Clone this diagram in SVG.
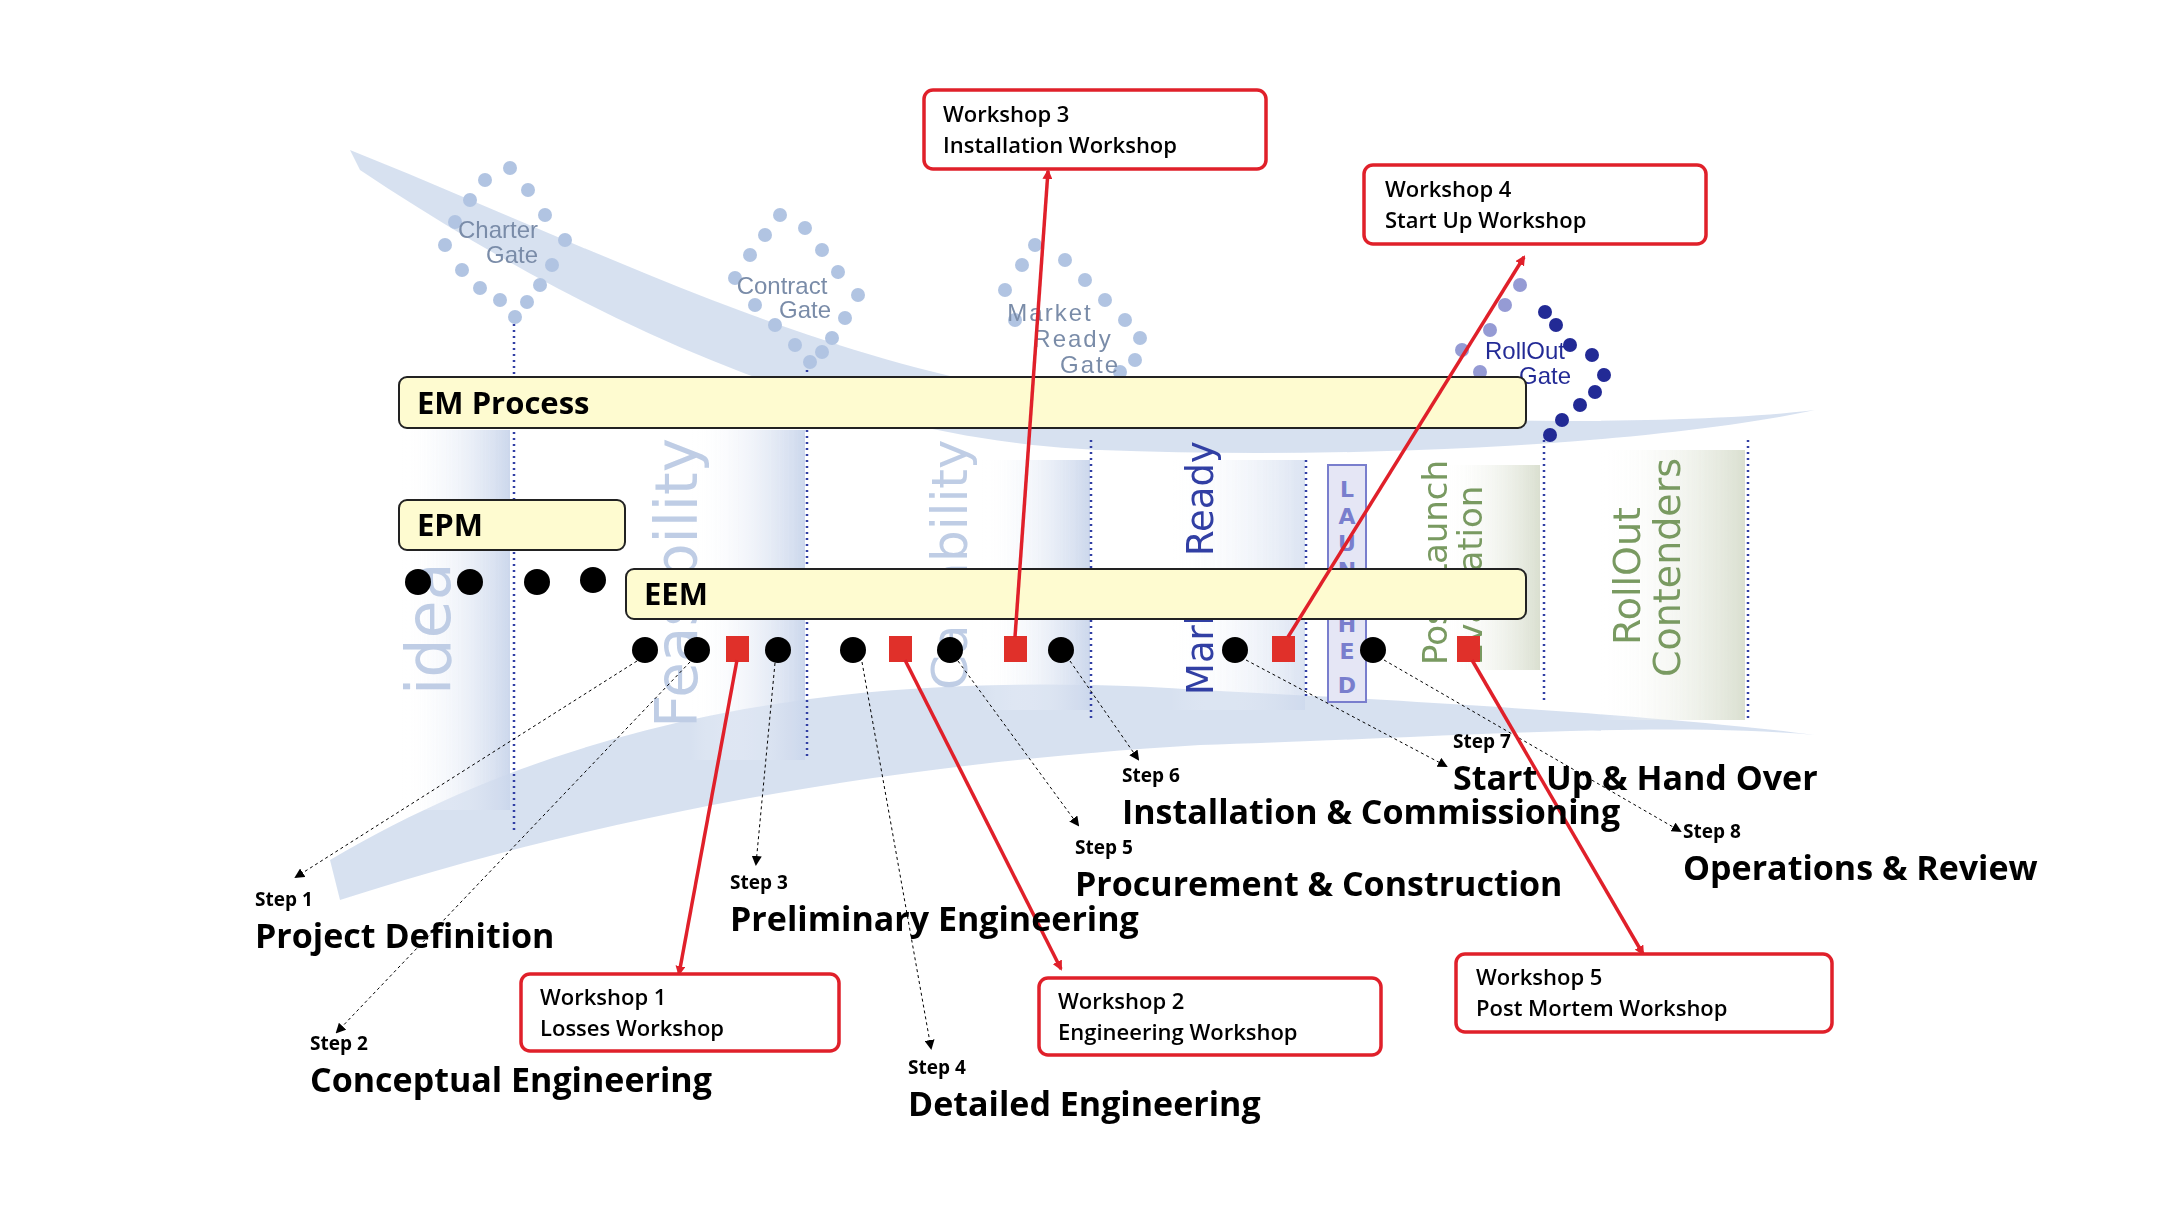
<svg xmlns="http://www.w3.org/2000/svg" width="2160" height="1211" viewBox="0 0 2160 1211">
<style>
.bar{fill:#fefbd0;stroke:#222;stroke-width:2}
.bt{font-family:"Open Sans","Liberation Sans",sans-serif;font-weight:bold;font-size:31px;fill:#000}
.ws{fill:#fff;stroke:#e0202a;stroke-width:3.5}
.wt{font-family:"Open Sans","Liberation Sans",sans-serif;font-weight:600;font-size:22px;fill:#000}
.st{font-family:"Open Sans","Liberation Sans",sans-serif;font-weight:bold;font-size:19px;fill:#000}
.sl{font-family:"Open Sans","Liberation Sans",sans-serif;font-weight:bold;font-size:34px;fill:#000}
.red{stroke:#e0202a;stroke-width:3.5;fill:none;marker-end:url(#ra)}
.dot{stroke:#000;stroke-width:1;stroke-dasharray:3 3;fill:none;marker-end:url(#ba)}
.vl{stroke:#1a2a9a;stroke-width:2.5;stroke-dasharray:2 4}
.bg{font-family:"Verdana","DejaVu Sans",sans-serif}
.gate{font-family:"Liberation Sans",sans-serif;font-size:24px;fill:#6b7f9f;text-anchor:middle}
</style>
<defs>
<marker id="ra" markerWidth="10" markerHeight="10" refX="8" refY="5" orient="auto" markerUnits="userSpaceOnUse"><path d="M0,0 L10,5 L0,10 z" fill="#e0202a"/></marker>
<marker id="ba" markerWidth="10" markerHeight="10" refX="8" refY="5" orient="auto" markerUnits="userSpaceOnUse"><path d="M0,0 L10,5 L0,10 z" fill="#000"/></marker>
<linearGradient id="col" x1="0" x2="1"><stop offset="0" stop-color="#fff" stop-opacity="0"/><stop offset="1" stop-color="#c6d3ea"/></linearGradient>
<linearGradient id="colg" x1="0" x2="1"><stop offset="0" stop-color="#fff" stop-opacity="0"/><stop offset="1" stop-color="#d6dccb"/></linearGradient>
</defs>
<g id="background" opacity="0.9">
<path d="M350,150 C600,250 850,380 1100,400 C1300,420 1650,430 1815,410 C1650,445 1350,460 1100,450 C850,440 600,330 360,170 z" fill="#d3deef"/>
<path d="M330,860 C600,700 900,670 1200,690 C1500,705 1700,720 1815,735 C1650,720 1400,740 1200,745 C950,760 650,800 340,900 z" fill="#d3deef"/>
<rect x="400" y="430" width="110" height="380" fill="url(#col)"/>
<rect x="690" y="430" width="115" height="330" fill="url(#col)"/>
<rect x="980" y="460" width="110" height="250" fill="url(#col)"/>
<rect x="1170" y="460" width="135" height="250" fill="url(#col)" opacity="0.7"/>
<rect x="1440" y="465" width="100" height="205" fill="url(#colg)"/>
<rect x="1600" y="450" width="145" height="270" fill="url(#colg)"/>
<line class="vl" x1="514" y1="312" x2="514" y2="831"/>
<line class="vl" x1="807" y1="370" x2="807" y2="760"/>
<line class="vl" x1="1091" y1="440" x2="1091" y2="720"/>
<line class="vl" x1="1306" y1="460" x2="1306" y2="700"/>
<line class="vl" x1="1544" y1="440" x2="1544" y2="700"/>
<line class="vl" x1="1748" y1="440" x2="1748" y2="720"/>
<g fill="#a9bedf">
<circle cx="485" cy="180" r="7"/><circle cx="470" cy="200" r="7"/><circle cx="455" cy="222" r="7"/><circle cx="445" cy="245" r="7"/><circle cx="462" cy="270" r="7"/><circle cx="480" cy="288" r="7"/><circle cx="500" cy="300" r="7"/><circle cx="515" cy="317" r="7"/><circle cx="510" cy="168" r="7"/><circle cx="528" cy="190" r="7"/><circle cx="545" cy="215" r="7"/><circle cx="565" cy="240" r="7"/><circle cx="552" cy="265" r="7"/><circle cx="540" cy="285" r="7"/><circle cx="527" cy="302" r="7"/>
<circle cx="780" cy="215" r="7"/><circle cx="765" cy="235" r="7"/><circle cx="750" cy="255" r="7"/><circle cx="735" cy="278" r="7"/><circle cx="755" cy="305" r="7"/><circle cx="775" cy="325" r="7"/><circle cx="795" cy="345" r="7"/><circle cx="810" cy="362" r="7"/><circle cx="805" cy="228" r="7"/><circle cx="822" cy="250" r="7"/><circle cx="838" cy="272" r="7"/><circle cx="858" cy="295" r="7"/><circle cx="845" cy="318" r="7"/><circle cx="832" cy="338" r="7"/><circle cx="822" cy="352" r="7"/>
<circle cx="1035" cy="245" r="7"/><circle cx="1022" cy="265" r="7"/><circle cx="1005" cy="290" r="7"/><circle cx="1015" cy="320" r="7"/><circle cx="1065" cy="260" r="7"/><circle cx="1085" cy="280" r="7"/><circle cx="1105" cy="300" r="7"/><circle cx="1125" cy="320" r="7"/><circle cx="1140" cy="338" r="7"/><circle cx="1135" cy="360" r="7"/><circle cx="1120" cy="372" r="7"/>
<circle cx="1520" cy="285" r="7" fill="#8a90d0"/><circle cx="1505" cy="305" r="7" fill="#8a90d0"/><circle cx="1490" cy="330" r="7" fill="#8a90d0"/><circle cx="1462" cy="350" r="7" fill="#8a90d0"/><circle cx="1480" cy="372" r="7" fill="#8a90d0"/>
</g>
<g fill="#0a128a">
<circle cx="1545" cy="312" r="7"/><circle cx="1556" cy="325" r="7"/><circle cx="1570" cy="345" r="7"/><circle cx="1592" cy="355" r="7"/><circle cx="1604" cy="375" r="7"/><circle cx="1595" cy="392" r="7"/><circle cx="1580" cy="405" r="7"/><circle cx="1562" cy="420" r="7"/><circle cx="1550" cy="435" r="7"/>
</g>
<text class="gate" x="498" y="238">Charter</text><text class="gate" x="512" y="263">Gate</text>
<text class="gate" x="782" y="294">Contract</text><text class="gate" x="805" y="318">Gate</text>
<text class="gate" x="1050" y="321" letter-spacing="2">Market</text><text class="gate" x="1073" y="347" letter-spacing="2">Ready</text><text class="gate" x="1090" y="373" letter-spacing="2">Gate</text>
<text class="gate" x="1525" y="359" style="fill:#0a128a">RollOut</text><text class="gate" x="1545" y="384" style="fill:#0a128a">Gate</text>
<text class="bg" transform="translate(450,695) rotate(-90)" font-size="62" fill="#b8c8e2">idea</text>
<text class="bg" transform="translate(697,728) rotate(-90)" font-size="58" fill="#b8c8e2">Feasibility</text>
<text class="bg" transform="translate(967,690) rotate(-90)" font-size="50" fill="#b8c8e2">Capability</text>
<text class="bg" transform="translate(1213,695) rotate(-90)" font-size="37" fill="#1a2a9a">Market Ready</text>
<rect x="1328" y="465" width="38" height="237" fill="#e2e4f4" stroke="#6a70c8" stroke-width="2"/>
<g class="bg" font-size="22" fill="#6a70c8" text-anchor="middle" font-weight="bold">
<text x="1347" y="497">L</text><text x="1347" y="524">A</text><text x="1347" y="551">U</text><text x="1347" y="578">N</text><text x="1347" y="605">C</text><text x="1347" y="632">H</text><text x="1347" y="659">E</text><text x="1347" y="693">D</text>
</g>
<text class="bg" transform="translate(1447,665) rotate(-90)" font-size="34" fill="#6a8f50">Post Launch</text>
<text class="bg" transform="translate(1482,665) rotate(-90)" font-size="34" fill="#6a8f50">Evaluation</text>
<text class="bg" transform="translate(1640,645) rotate(-90)" font-size="38" fill="#6a8f50">RollOut</text>
<text class="bg" transform="translate(1680,677) rotate(-90)" font-size="38" fill="#6a8f50">Contenders</text>
</g>
<g id="bars">
<g id="em-process"><rect class="bar" x="399" y="377" width="1127" height="51" rx="8"/><text class="bt" x="417" y="414">EM Process</text></g>
<g id="epm"><rect class="bar" x="399" y="500" width="226" height="50" rx="8"/><text class="bt" x="417" y="536">EPM</text></g>
<g id="eem"><rect class="bar" x="626" y="569" width="900" height="50" rx="8"/><text class="bt" x="644" y="605">EEM</text></g>
</g>
<g id="markers">
<circle cx="418" cy="582" r="13"/><circle cx="470" cy="582" r="13"/><circle cx="537" cy="582" r="13"/><circle cx="593" cy="580" r="13"/>
<circle cx="645" cy="650" r="13"/><circle cx="697" cy="650" r="13"/><circle cx="778" cy="650" r="13"/><circle cx="853" cy="650" r="13"/><circle cx="950" cy="650" r="13"/><circle cx="1061" cy="650" r="13"/><circle cx="1235" cy="650" r="13"/><circle cx="1373" cy="650" r="13"/>
<g fill="#e0302a"><rect x="726" y="636" width="23" height="26"/><rect x="889" y="636" width="23" height="26"/><rect x="1004" y="636" width="23" height="26"/><rect x="1272" y="636" width="23" height="26"/><rect x="1457" y="636" width="23" height="26"/></g>
</g>
<g id="connectors">
<path class="dot" d="M637,661 L296,877"/>
<path class="dot" d="M690,662 L337,1032"/>
<path class="dot" d="M775,663 L756,864"/>
<path class="dot" d="M862,662 L931,1048"/>
<path class="dot" d="M958,661 L1078,825"/>
<path class="dot" d="M1070,661 L1138,759"/>
<path class="dot" d="M1246,660 L1446,766"/>
<path class="dot" d="M1384,660 L1680,831"/>
<path class="red" d="M737,660 L679,974"/>
<path class="red" d="M905,660 L1061,969"/>
<path class="red" d="M1015,637 L1048,171"/>
<path class="red" d="M1288,637 L1524,257"/>
<path class="red" d="M1472,660 L1643,954"/>
</g>
<g id="workshop3"><rect class="ws" x="924" y="90" width="342" height="79" rx="9"/><text class="wt" x="943" y="122">Workshop 3</text><text class="wt" x="943" y="153">Installation Workshop</text></g>
<g id="workshop4"><rect class="ws" x="1364" y="165" width="342" height="79" rx="9"/><text class="wt" x="1385" y="197">Workshop 4</text><text class="wt" x="1385" y="228">Start Up Workshop</text></g>
<g id="workshop1"><rect class="ws" x="521" y="974" width="318" height="77" rx="9"/><text class="wt" x="540" y="1005">Workshop 1</text><text class="wt" x="540" y="1036">Losses Workshop</text></g>
<g id="workshop2"><rect class="ws" x="1039" y="978" width="342" height="77" rx="9"/><text class="wt" x="1058" y="1009">Workshop 2</text><text class="wt" x="1058" y="1040">Engineering Workshop</text></g>
<g id="workshop5"><rect class="ws" x="1456" y="954" width="376" height="78" rx="9"/><text class="wt" x="1476" y="985">Workshop 5</text><text class="wt" x="1476" y="1016">Post Mortem Workshop</text></g>
<g id="steps">
<text class="st" x="255" y="906">Step 1</text><text class="sl" x="255" y="948">Project Definition</text>
<text class="st" x="310" y="1050">Step 2</text><text class="sl" x="310" y="1092">Conceptual Engineering</text>
<text class="st" x="730" y="889">Step 3</text><text class="sl" x="730" y="931">Preliminary Engineering</text>
<text class="st" x="908" y="1074">Step 4</text><text class="sl" x="908" y="1116">Detailed Engineering</text>
<text class="st" x="1075" y="854">Step 5</text><text class="sl" x="1075" y="896">Procurement &amp; Construction</text>
<text class="st" x="1122" y="782">Step 6</text><text class="sl" x="1122" y="824">Installation &amp; Commissioning</text>
<text class="st" x="1453" y="748">Step 7</text><text class="sl" x="1453" y="790">Start Up &amp; Hand Over</text>
<text class="st" x="1683" y="838">Step 8</text><text class="sl" x="1683" y="880">Operations &amp; Review</text>
</g>
</svg>
